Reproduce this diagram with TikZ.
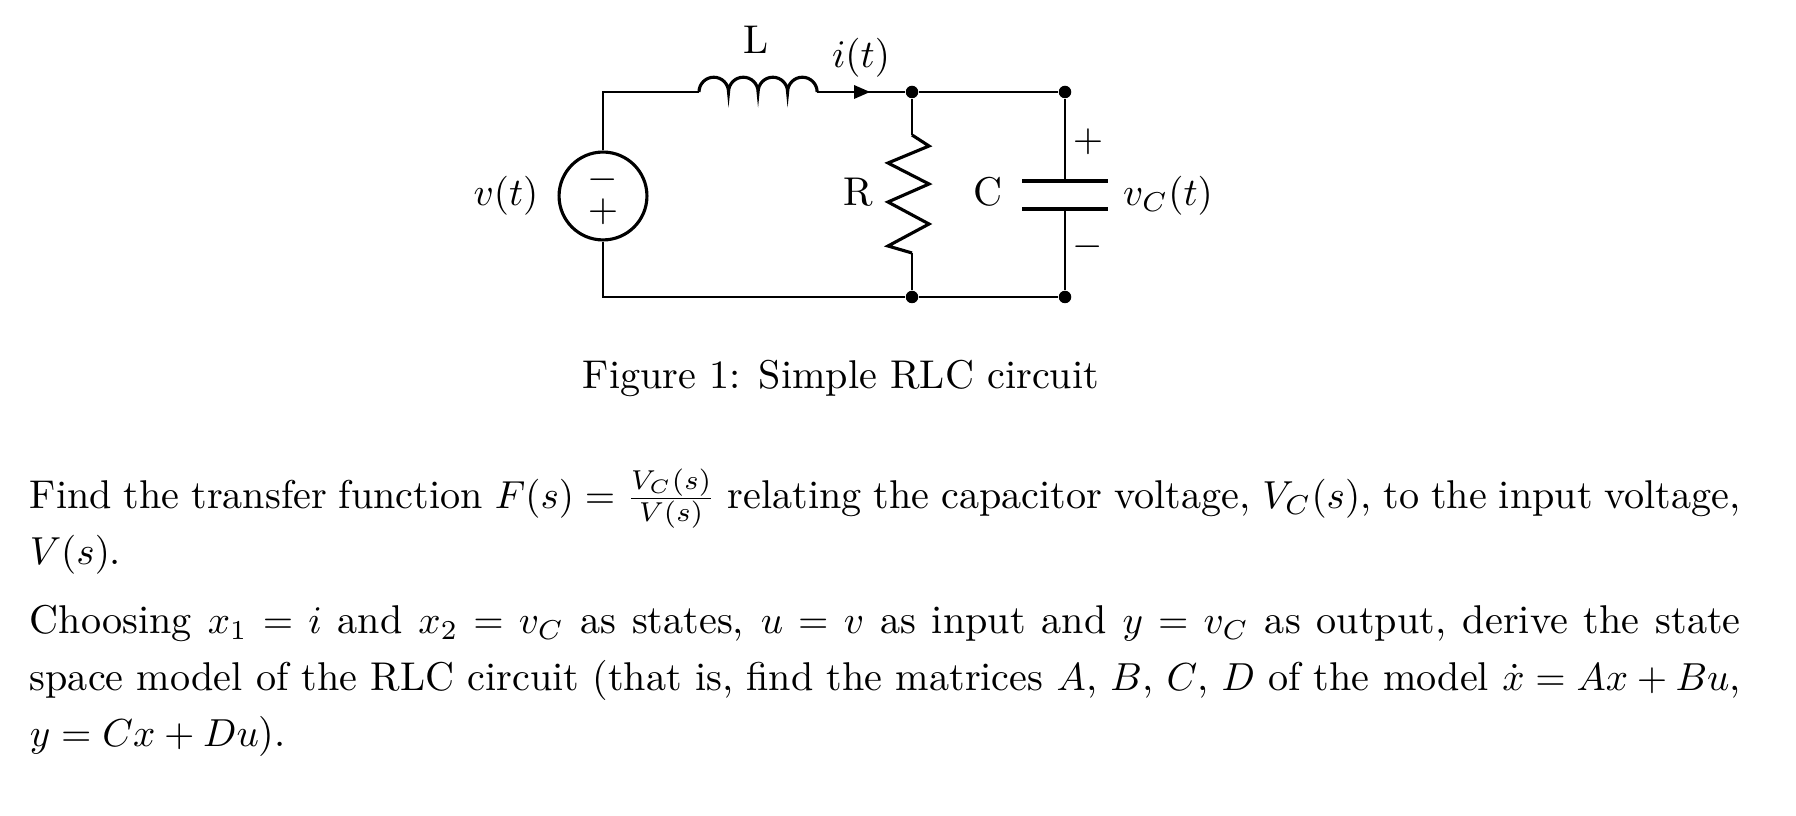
\documentclass[12pt,tikz,border=0pt]{standalone}
\begin{document}
\begin{tikzpicture}[x=0.256pt,y=-0.256pt,
  font=\fontsize{10.28pt}{14.5pt}\selectfont,
  wire/.style={line width=0.4pt},
  comp/.style={line width=0.8pt},
  dot/.style={circle,fill,inner sep=0pt,minimum size=3.2pt},
  lbl/.style={inner sep=0pt}]
\useasboundingbox (0,0) rectangle (1796,816);
% nodes / coordinates
\coordinate (tl) at (603,92);
\coordinate (bl) at (603,297);
\coordinate (l1) at (699,92);
\coordinate (l2) at (817,92);
\node[dot] (ntr) at (912,92) {};
\node[dot] (ntc) at (1065,92) {};
\node[dot] (nbr) at (912,297) {};
\node[dot] (nbc) at (1065,297) {};
\node[circle,draw,comp,minimum size=22.5pt,inner sep=0pt] (src) at (603,196) {};
\node[lbl] (sm) at (603,180) {$-$};
\node[lbl] (sp) at (603,212) {$+$};
\coordinate (r1) at (912,135);
\coordinate (r2) at (912,253);
\coordinate (c1) at (1065,181);
\coordinate (c2) at (1065,209);
% wires
\draw[wire] (src.north) -- (tl) -- (l1);
\draw[wire] (src.south) -- (bl) -- (nbr) -- (nbc);
\draw[wire] (l2) -- (ntr) -- (ntc);
\draw[wire] (ntr) -- (r1);
\draw[wire] (r2) -- (nbr);
\draw[wire] (ntc) -- (c1);
\draw[wire] (c2) -- (nbc);
% inductor
\draw[comp] (l1) arc[start angle=180,end angle=0,radius=3.78pt]
  arc[start angle=180,end angle=0,radius=3.78pt]
  arc[start angle=180,end angle=0,radius=3.78pt]
  arc[start angle=180,end angle=0,radius=3.78pt];
% arrow
\fill (854,85) -- (870,92) -- (854,99) -- cycle;
% resistor
\draw[comp] (r1) -- (929,146) -- (888,163) -- (929,184) -- (888,202) -- (929,224) -- (888,246) -- (r2);
% capacitor
\draw[comp] (1022,181) -- (1108,181);
\draw[comp] (1022,209) -- (1108,209);
% labels
\node[lbl] (tL) at (756,40) {L};
\node[lbl] (ti) at (861,58) {$i(t)$};
\node[lbl] (tv) at (506,196) {$v(t)$};
\node[lbl] (tR) at (858,192) {R};
\node[lbl] (tC) at (988,192) {C};
\node[lbl] (tvc) at (1168,196) {$v_C(t)$};
\node[lbl] (cp) at (1088,142) {$+$};
\node[lbl] (cm) at (1088,247) {$-$};
\node[lbl] (cap) at (841,378) {Figure 1: Simple RLC circuit};
\node[lbl,anchor=north west,text width=438pt,align=justify] (para) at (29,468) {%
\setlength{\parskip}{3.1pt}\setlength{\parindent}{0pt}%
Find the transfer function $F(s)=\frac{V_C(s)}{V(s)}$ relating the capacitor voltage, $V_C(s)$, to the input voltage, $V(s)$.\par
Choosing $x_1=i$ and $x_2=v_C$ as states, $u=v$ as input and $y=v_C$ as output, derive the state space model of the RLC circuit (that is, find the matrices $A$, $B$, $C$, $D$ of the model $\dot{x}=Ax+Bu$, $y=Cx+Du$).};
\end{tikzpicture}
\end{document}
